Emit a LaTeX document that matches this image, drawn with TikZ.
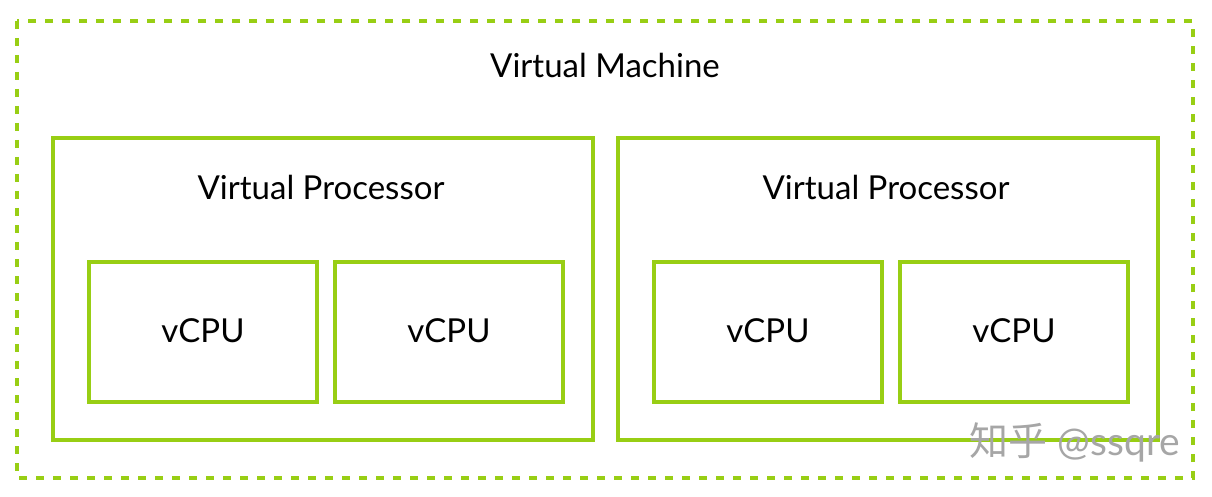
\documentclass[tikz,border=0pt]{standalone}
\usepackage{fontspec}
\setmainfont{Lato}
\newfontfamily\cjkfont{Noto Sans CJK SC}
\definecolor{vmgreen}{RGB}{152,206,20}
\begin{document}
\begin{tikzpicture}[x=1pt,y=-1pt,
  box/.style={draw=vmgreen,line width=4pt,fill=none},
  lbl/.style={font=\fontsize{33}{40}\selectfont,text=black,inner sep=0pt}]
\useasboundingbox[fill=white] (0,0) rectangle (1212,497);
\draw[vmgreen,line width=4pt,dash pattern=on 8pt off 9pt] (17,21) rectangle (1193,478);
\node[lbl] (vm) at (605,65) {Virtual Machine};
\draw[box] (53,138) rectangle (593,440);
\draw[box] (618,138) rectangle (1158,440);
\node[lbl] (vp1) at (321,187) {Virtual Processor};
\node[lbl] (vp2) at (886,187) {Virtual Processor};
\draw[box] (89,262) rectangle (317,402);
\draw[box] (335,262) rectangle (563,402);
\draw[box] (654,262) rectangle (882,402);
\draw[box] (900,262) rectangle (1128,402);
\node[lbl] (c1) at (203,331) {vCPU};
\node[lbl] (c2) at (449,331) {vCPU};
\node[lbl] (c3) at (768,331) {vCPU};
\node[lbl] (c4) at (1014,331) {vCPU};
\node[inner sep=0pt,text=gray!70,font=\fontsize{39}{46}\selectfont] (wm) at (1075,442) {{\cjkfont 知乎} @ssqre};
\end{tikzpicture}
\end{document}
